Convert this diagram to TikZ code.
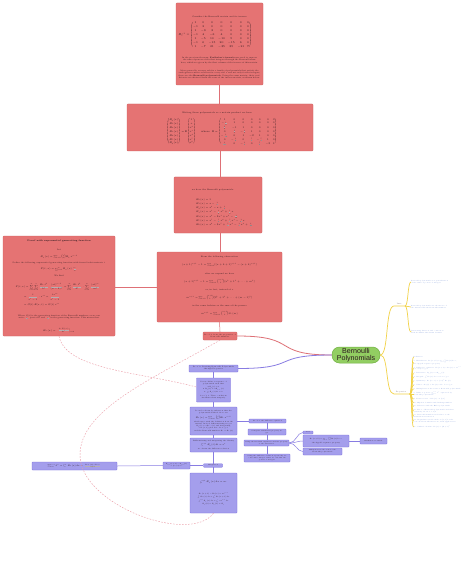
\RequirePackage{fix-cm}
\documentclass[tikz,border=0pt]{standalone}
\usepackage{amsmath}
\usepackage{fontspec}
\DeclareFontFamily{OMX}{cmex}{}
\DeclareFontShape{OMX}{cmex}{m}{n}{<->cmex10}{}
\newfontfamily\headsans{Liberation Sans}
\definecolor{redfill}{RGB}{229,115,115}
\definecolor{rededge}{RGB}{208,94,94}
\definecolor{redconn}{RGB}{222,112,118}
\definecolor{purpfill}{RGB}{164,158,236}
\definecolor{purpedge}{RGB}{122,110,222}
\definecolor{purpconn}{RGB}{136,124,226}
\definecolor{greenfill}{RGB}{146,206,98}
\definecolor{greenedge}{RGB}{112,176,64}
\definecolor{yel}{RGB}{242,210,72}
\definecolor{itemblue}{RGB}{118,146,214}
\definecolor{ink}{RGB}{45,25,30}
\definecolor{pinkdash}{RGB}{236,160,170}
\newcommand\fsz[2]{\fontsize{#1}{#2}\selectfont\setlength\arraycolsep{1pt}}
% fraction with a faint rule (tiny text)
\newcommand\fr[2]{{\color{ink!35}\genfrac{}{}{0.08pt}{}{\color{ink}#1}{\color{ink}#2}}}
\newcommand\tfr[2]{{\color{ink!35}\genfrac{}{}{0.08pt}{1}{\color{ink}#1}{\color{ink}#2}}}
\tikzset{
  redbox/.style={draw=rededge, fill=redfill, line width=0.35pt, rounded corners=0.8pt, inner sep=0pt},
  purpbox/.style={draw=purpedge, fill=purpfill, line width=0.35pt, rounded corners=0.6pt, inner sep=0pt, text=ink, align=center},
  redtxt/.style={text=ink, inner sep=0pt, align=center},
  rconn/.style={draw=redconn, line width=0.5pt},
  pconn/.style={draw=purpconn, line width=0.5pt},
  yconn/.style={draw=yel, line width=0.7pt},
  yitem/.style={text=itemblue, inner sep=0pt, anchor=west, align=left, font=\fsz{1.5}{1.9}},
  ylabel/.style={text=ink!70, inner sep=0pt, font=\fsz{1.7}{2}},
  dashlink/.style={draw=pinkdash, line width=0.45pt, dash pattern=on 1.6pt off 1.4pt},
}
\begin{document}
\begin{tikzpicture}[x=1pt,y=-1pt]
\useasboundingbox (0,0) rectangle (474,561);
\fill[white] (0,0) rectangle (474,561);

% ---------------- Box 1 ----------------
\node[redbox, minimum width=87pt, minimum height=82pt] (b1) at (219.5,44) {};
\node[redtxt, font=\fsz{2}{2.4}] (b1t) at (219.5,17) {Consider the Bernoulli matrix and its inverse};
\node[redtxt, font=\fsz{2.8}{3.3}] (b1m) at (215,35) {$\renewcommand\arraystretch{1.2}\setlength\arraycolsep{1.4pt}B_7^{-1}=\begin{pmatrix}
1&0&0&0&0&0&0\\
-1&2&0&0&0&0&0\\
1&-3&3&0&0&0&0\\
-1&4&-6&4&0&0&0\\
1&-5&10&-10&5&0&0\\
-1&6&-15&20&-15&6&0\\
1&-7&21&-35&35&-21&7
\end{pmatrix}$};
\node[redtxt, text width=82pt, font=\fsz{1.9}{2.3}] (b1p) at (219.5,60.5) {In the previous theorem, \textbf{Faulhaber's formula} was used to express the sum of powers of the first integers through the Bernoulli numbers, which are given by the first column of the inverse of this matrix.};
\node[redtxt, text width=82pt, font=\fsz{1.9}{2.3}] (b1q) at (219.5,74.5) {More generally, we may ask for a family of polynomials that satisfy the analogous recursive relation for every real $x$ and not only for the integers; these are the \textbf{Bernoulli polynomials}. Using the same matrix, their coefficients are obtained from the rows of the inverse matrix, as shown below.};

% ---------------- Box 2 ----------------
\node[redbox, minimum width=186pt, minimum height=47pt] (b2) at (220,127.5) {};
\node[redtxt, font=\fsz{2.1}{2.5}] (b2t) at (217,113) {Writing these polynomials as a matrix product we have};
\node[redtxt, font=\fsz{2.5}{3}] (b2m) at (222,131.5) {$\renewcommand\arraystretch{1.3}\setlength\arraycolsep{1.4pt}\begin{pmatrix}B_0(x)\\B_1(x)\\B_2(x)\\B_3(x)\\B_4(x)\\B_5(x)\\B_6(x)\end{pmatrix}=\mathbf{B}\begin{pmatrix}1\\x\\x^2\\x^3\\x^4\\x^5\\x^6\end{pmatrix}\qquad\text{where}\quad\mathbf{B}=\begin{pmatrix}
1&0&0&0&0&0&0\\
-\tfr12&1&0&0&0&0&0\\
\tfr16&-1&1&0&0&0&0\\
0&\tfr12&-\tfr32&1&0&0&0\\
-\tfr1{30}&0&1&-2&1&0&0\\
0&-\tfr16&0&\tfr53&-\tfr52&1&0\\
\tfr1{42}&0&-\tfr12&0&\tfr52&-3&1
\end{pmatrix}$};

% ---------------- Box 3 ----------------
\node[redbox, minimum width=88pt, minimum height=56pt] (b3) at (218,205) {};
\node[redtxt, font=\fsz{2}{2.4}] (b3t) at (213,190) {we have the Bernoulli polynomials:};
\node[redtxt, anchor=west, font=\fsz{2.4}{2.9}] (b3m) at (196,212) {$\renewcommand\arraystretch{1.45}\begin{array}{@{}l@{}}
B_0(x)=1\\
B_1(x)=x-\tfr12\\
B_2(x)=x^2-x+\tfr16\\
B_3(x)=x^3-\tfr32x^2+\tfr12x\\
B_4(x)=x^4-2x^3+x^2-\tfr1{30}\\
B_5(x)=x^5-\tfr52x^4+\tfr53x^3-\tfr16x\\
B_6(x)=x^6-3x^5+\tfr52x^4-\tfr12x^2+\tfr1{42}
\end{array}$};

% ---------------- Left box ----------------
\node[redbox, minimum width=112pt, minimum height=100pt] (lb) at (59,286) {};
\node[redtxt, font=\fsz{2.2}{2.6}\bfseries] (lb1) at (59,240.5) {Proof with exponential generating function};
\node[redtxt, font=\fsz{2}{2.4}] (lb2) at (59,250) {Let};
\node[redtxt, font=\fsz{2.4}{2.9}] (lb3) at (59,257) {$B_n(x)=\sum_{k=0}^{n}\binom{n}{k}B_k\,x^{n-k}$};
\node[redtxt, font=\fsz{1.9}{2.3}] (lb4) at (59,263.5) {Define the following exponential generating function with formal indeterminate $t$};
\node[redtxt, font=\fsz{2.4}{2.9}] (lb5) at (59,269.5) {$F(t,x)=\sum_{n=0}^{\infty}B_n(x)\,\fr{t^n}{n!}$};
\node[redtxt, font=\fsz{2}{2.4}] (lb6) at (59,276) {We find};
\node[redtxt, font=\fsz{2.3}{2.8}] (lb7) at (58,287) {$\displaystyle F(t,x)=\sum_{n=0}^{\infty}\sum_{k=0}^{n}\fr{B_k\,t^k}{k!}\,\fr{(xt)^{n-k}}{(n-k)!}=\sum_{k=0}^{\infty}\fr{B_k\,t^k}{k!}\cdot\sum_{m=0}^{\infty}\fr{(xt)^m}{m!}$};
\node[redtxt, anchor=west, font=\fsz{2.3}{2.8}] (lb8) at (24,297) {$\displaystyle =\fr{t}{e^t-1}\cdot e^{xt}=\fr{t\,e^{xt}}{e^t-1}$};
\node[redtxt, anchor=west, font=\fsz{2.3}{2.8}] (lb9) at (24,305) {$=G(t)\,E(x,t)=G(t)\,e^{xt}$};
\node[redtxt, text width=104pt, font=\fsz{1.9}{2.4}] (lb10) at (59,317.5) {Where $G(t)$ is the generating function of the Bernoulli numbers, so we can write $\fr{t^n}{n!}$ part of $F$ and $\fr{1}{n!}$ in the generating function. This means that};
\node[redtxt, font=\fsz{2.4}{2.9}] (lb11) at (59,330.5) {$B_n(x)=\left.\fr{\partial^n F(t,x)}{\partial t^n}\right|_{t=0}$};

% ---------------- Middle box ----------------
\node[redbox, minimum width=125pt, minimum height=70pt] (mb) at (219.5,287) {};
\node[redtxt, font=\fsz{2}{2.4}] (mb1) at (219.5,257) {From the following observation};
\node[redtxt, font=\fsz{2.4}{2.9}] (mb2) at (219.5,265) {$(x+1)^{n+1}-1=\sum_{k=0}^{n}\bigl((x+k+1)^{n+1}-(x+k)^{n+1}\bigr)$};
\node[redtxt, font=\fsz{2}{2.4}] (mb3) at (219.5,273.5) {after we expand we have};
\node[redtxt, font=\fsz{2.4}{2.9}] (mb4) at (219.5,281.5) {$(x+1)^{n+1}-1=\sum_{k=0}^{n}\binom{n+1}{k}\bigl(x^{k}+1^{k}+\cdots+m^{k}\bigr)$};
\node[redtxt, font=\fsz{2}{2.4}] (mb5) at (219.5,289.5) {or, in fact, instead of $x$};
\node[redtxt, font=\fsz{2.4}{2.9}] (mb6) at (219.5,297.5) {$m^{n+1}=\sum_{k=0}^{n}\binom{n+1}{k}\bigl(0^{k}+1^{k}+\cdots+(m-1)^{k}\bigr)$};
\node[redtxt, font=\fsz{2}{2.4}] (mb7) at (219.5,306) {in the same fashion as the sum of the powers};
\node[redtxt, font=\fsz{2.4}{2.9}] (mb8) at (219.5,313.5) {$m^{n+1}=\sum_{k=0}^{n}\binom{n+1}{k}S_k(m)$};

% ---------------- central nodes ----------------
\node[redbox, minimum width=34pt, minimum height=8pt, text=ink, align=center, font=\fsz{1.7}{2.1}] (p1) at (220,336) {Proof 1: from the properties of\\Bernoulli numbers};
\node[draw=greenedge, fill=greenfill, line width=0.5pt, rounded corners=7.5pt, minimum width=48pt, minimum height=16pt, inner sep=0pt, align=center, text=ink, font=\headsans\fontsize{7.1}{7.6}\selectfont] (bp) at (356,355) {Bernoulli\\Polynomials};
\node[purpbox, minimum width=49pt, minimum height=7pt, font=\fsz{1.7}{2.1}] (p2) at (213.5,368.5) {Proof 2: Deriving Bernoulli Polynomials\\through Properties};

% ---------------- purple column ----------------
\node[purpbox, minimum width=34pt, minimum height=24pt, font=\fsz{1.6}{2}] (pa) at (213.5,390) {Let us define a sequence of\\polynomials such that\\[1.2pt]
$\bullet\ B_0(x)=1$\\ $\bullet\ B_n'(x)=nB_{n-1}(x)$\\ $\bullet\ \int_0^1 B_n(x)\,dx=0$\\[1.2pt]
for $n\ge 1$. These conditions\\determine them uniquely.};
\node[purpbox, minimum width=47pt, minimum height=28pt, font=\fsz{1.6}{2}] (pb) at (213.5,421) {It can be shown by induction that the\\polynomials defined above are\\[0.8pt]
{\fsz{2.3}{2.8}$B_n(x)=\sum_{k=0}^{n}\binom{n}{k}B_k\,x^{n-k}$}\\[0.8pt]
which agree with the definition from the\\matrix. Indeed, differentiating we get\\$B_n'(x)=nB_{n-1}(x)$ and integrating\\over $[0,1]$ gives zero for $n\ge1$.\\[0.6pt] and the Bernoulli numbers $B_n=B_n(0)$};
\node[purpbox, minimum width=47pt, minimum height=14pt, font=\fsz{1.6}{2}] (pc) at (213.5,445) {Differentiating and integrating the identity\\[0.4pt]
{\fsz{2.2}{2.6}$\int_x^{x+1}B_n(t)\,dt=x^n$}\\[0.4pt] we obtain the difference relation};
\node[purpbox, minimum width=19pt, minimum height=3.5pt, font=\fsz{1.5}{1.8}] (pd) at (213,465.5) {Integration};
\node[purpbox, minimum width=47pt, minimum height=40pt, font=\fsz{1.7}{2.1}] (pe) at (213.5,493) {{\fsz{2.3}{2.8}$\int_a^{a+1}B_n(x)\,dx=a^n$}\\[8pt]
$B_n(x+1)-B_n(x)=nx^{n-1}$\\[1pt]
$\int_0^1 B_n(x)\,dx=\int_0^1 B_n(x+1)\,dx$\\[1pt]
$\int_a^{a+1}B_n(x)\,dx=\int_0^{a}nx^{n-1}dx$\\[1pt]
$B_n(0)=B_n(1)=B_n$};

% right purple column
\node[purpbox, minimum width=37pt, minimum height=4pt, font=\fsz{1.5}{1.8}] (r1) at (267.5,421) {Proof 3: the difference equation};
\node[purpbox, minimum width=38pt, minimum height=6pt, font=\fsz{1.5}{1.8}] (r2) at (267,432) {Using the translation property we\\get};
\node[purpbox, minimum width=45pt, minimum height=6pt, font=\fsz{1.5}{1.8}] (r3) at (266.5,443) {Using the binomial expansion and the property\\of the derivatives};
\node[purpbox, minimum width=46pt, minimum height=8pt, font=\fsz{1.5}{1.8}] (r4) at (267,458) {Using the difference relation repeatedly for\\consecutive integer values we can sum the\\powers of integers};
\node[purpbox, minimum width=10pt, minimum height=3pt, font=\fsz{1.3}{1.6}] (sl) at (308,432.5) {Proof};
\node[purpbox, minimum width=46pt, minimum height=12pt, font=\fsz{1.6}{2}] (s1) at (326,441) {$B_n(x+h)=\sum_{k=0}^{n}\binom{n}{k}B_k(x)\,h^{n-k}$\\[1pt] the Appell sequence property};
\node[purpbox, minimum width=39pt, minimum height=7pt, font=\fsz{1.5}{1.8}] (s2) at (322.5,451.5) {Multiplication theorem for the\\Bernoulli polynomials};
\node[purpbox, minimum width=27pt, minimum height=6pt, font=\fsz{1.5}{1.8}] (tt) at (373.5,441) {Faulhaber's formula};

% bottom-left nodes
\node[purpbox, minimum width=85pt, minimum height=8pt, font=\fsz{2.2}{2.6}] (ff) at (74.5,466) {$\sum_{k=0}^{m-1}k^{n}=\int_0^{m}B_n(x)\,dx=\fr{B_{n+1}(m)-B_{n+1}}{n+1}$};
\node[purpbox, minimum width=27pt, minimum height=7pt, font=\fsz{1.5}{1.9}] (gg) at (176.5,465.5) {$B_{n+1}(x+1)-B_{n+1}(x)$\\$=(n+1)\,x^{n}$};

% ---------------- connectors ----------------
\draw[rconn] (b1.south) -- (b1.south |- b2.north);
\draw[rconn] (b2.south) -- (b2.south |- b3.north);
\draw[rconn] (b2.south |- b3.south) -- (b2.south |- mb.north);
\draw[rconn] (mb.south) -- (p1.north);
\draw[rconn] (lb.east |- mb.west) -- (mb.west);
\draw[draw=redconn, line width=0.8pt] (p1.east) .. controls (300,336) and (270,355) .. (bp.west);
\draw[draw=purpconn, line width=0.8pt] (p2.east) .. controls (300,368.5) and (270,355) .. (bp.west);

\draw[pconn] (p2.south -| pa.north) -- (pa.north);
\draw[pconn] (pa.south) -- (pa.south |- pb.north);
\draw[pconn] (pa.south |- pb.south) -- (pa.south |- pc.north);
\draw[pconn] (pa.south |- pc.south) -- (pa.south |- pd.north);
\draw[pconn] (pa.south |- pd.south) -- (pa.south |- pe.north);
\draw[pconn] (pb.east |- r1.west) -- (r1.west);
\draw[pconn] (r1.south) -- (r1.south |- r2.north);
\draw[pconn] (r1.south |- r2.south) -- (r1.south |- r3.north);
\draw[pconn] (r1.south |- r3.south) -- (r1.south |- r4.north);
\draw[pconn] (r3.east) .. controls (296,443) and (297,432.5) .. (sl.west);
\draw[pconn] (r3.east) .. controls (296,443) and (297,441) .. (s1.west);
\draw[pconn] (r3.east) .. controls (296,443) and (297,451.5) .. (s2.west);
\draw[pconn] (s1.east) -- (tt.west);
\draw[pconn] (ff.east) -- (gg.west);
\draw[pconn] (gg.east) -- (pd.west);

% dashed links
\draw[dashlink] (lb.south) .. controls (66,370) and (140,372) .. (pa.170);
\draw[dashlink] (p1.south) .. controls (150,380) and (80,410) .. (80,455) .. controls (80,505) and (190,545) .. (pe.south);

% ---------------- yellow branches ----------------
\coordinate (ia) at (394,306);
\coordinate (ib) at (405,306);
\draw[yconn] (bp.east) .. controls (389,355) and (385,306) .. (ia) -- (ib);
\node[ylabel, anchor=south] (intro) at (399.5,305.2) {Intro};
\node[yitem] (i1) at (411,282) {Bernoulli polynomials as a generalisation\\of the sums of powers of integers};
\node[yitem] (i2) at (411,307) {Bernoulli polynomials via the inverse of\\the matrix with the Bernoulli numbers};
\node[yitem] (i3) at (411,332) {Generating function and connection\\with the Euler--Maclaurin formula};
\foreach \n in {i1,i2,i3}{
  \draw[yconn] (ib) .. controls (408.5,306) and (407.5,306 |- \n.west) .. (\n.west);
}

\coordinate (qa) at (394,394);
\coordinate (qb) at (410,394);
\draw[yconn] (bp.east) .. controls (389,355) and (385,394) .. (qa) -- (qb);
\node[ylabel, anchor=south] (props) at (401,393.2) {Properties};
\node[yitem] (q1) at (413.5,357) {Definition};
\node[yitem] (q2) at (413.5,362.5) {1. Translation: $B_n(x+h)=\sum_k\binom nk B_k(x)h^{n-k}$,\\the Appell sequence property};
\node[yitem] (q3) at (413.5,368.5) {2. Difference equation: $B_n(x+1)-B_n(x)=nx^{n-1}$\\for every $n\ge1$};
\node[yitem] (q4) at (413.5,373.5) {3. Derivative: $B_n'(x)=nB_{n-1}(x)$};
\node[yitem] (q5) at (413.5,377.3) {4. Integral: $\int_0^1B_n(x)\,dx=0$ for $n\ge1$};
\node[yitem] (q6) at (413.5,381) {5. Symmetry: $B_n(1-x)=(-1)^nB_n(x)$};
\node[yitem] (q7) at (413.5,385) {6. Values: $B_n(0)=B_n(1)=B_n$ for $n\ge2$};
\node[yitem] (q8) at (413.5,389) {7. Multiplication theorem for Bernoulli polynomials};
\node[yitem] (q9) at (413.5,394) {8. Sums of powers: $\sum_{k=0}^{m-1}k^n$ expressed by\\Bernoulli polynomials};
\node[yitem] (q10) at (413.5,399) {9. Fourier series of $B_n(x)$ on $[0,1]$};
\node[yitem] (q11) at (413.5,402.8) {10. Explicit formula with Stirling numbers};
\node[yitem] (q12) at (413.5,406.5) {11. Relation with the Euler polynomials};
\node[yitem] (q13) at (413.5,410.8) {12. Zeros of Bernoulli polynomials and their\\symmetry about $x=1/2$};
\node[yitem] (q14) at (413.5,415.8) {13. Bernoulli numbers and values of the\\Riemann zeta function};
\node[yitem] (q15) at (413.5,421) {14. Inequalities and bounds on $[0,1]$ for the\\periodic Bernoulli functions, with applications};
\node[yitem] (q16) at (413.5,427) {15. Umbral calculus: $B_n(x)=(B+x)^n$};
\foreach \n in {q1,q2,q3,q4,q5,q6,q7,q8,q9,q10,q11,q12,q13,q14,q15,q16}{
  \draw[yconn] (qb) .. controls (412,394) and (411.5,394 |- \n.west) .. (\n.west);
}
\end{tikzpicture}
\end{document}
